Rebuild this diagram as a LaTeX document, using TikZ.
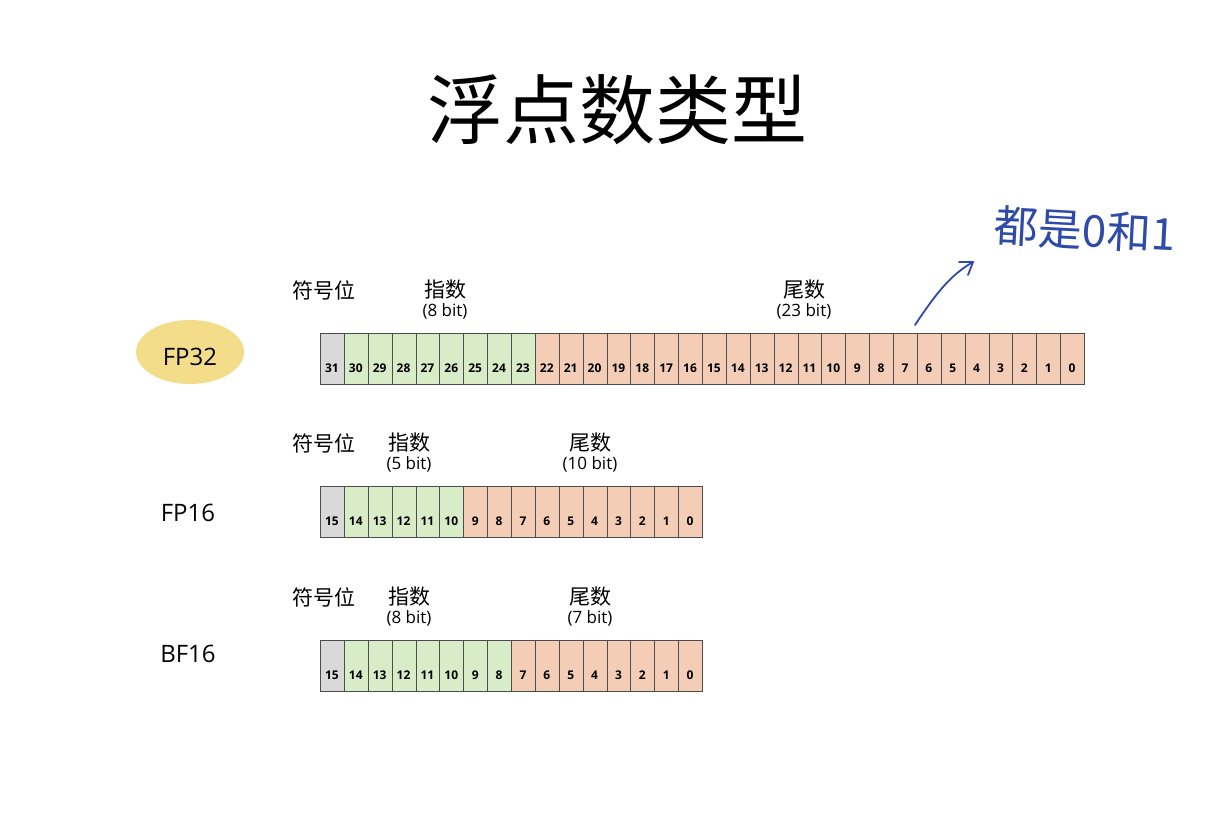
\documentclass[tikz,border=0pt]{standalone}
\usepackage{fontspec}
\setmainfont{Noto Sans CJK SC}
\newfontfamily\numf{Open Sans}
\definecolor{sgn}{HTML}{D9D9D9}
\definecolor{expc}{HTML}{D8ECC8}
\definecolor{manc}{HTML}{F4CDB6}
\definecolor{hand}{HTML}{2E4BA8}
\definecolor{hl}{HTML}{F3DC8A}
\begin{document}
\begin{tikzpicture}[x=1pt,y=-1pt,
 cell/.style={draw=black!70,line width=0.8pt,minimum width=23.9pt,minimum height=51pt,inner sep=0pt,anchor=north west,text depth=0pt},
 num/.style={font=\numf\fontsize{12}{12}\selectfont\bfseries},
 lab/.style={font=\fontsize{21}{21}\selectfont},
 sub/.style={font=\numf\fontsize{17}{17}\selectfont},
 row/.style={font=\numf\fontsize{24}{24}\selectfont}]
\useasboundingbox (0,0) rectangle (1225,833);
\node[font=\fontsize{76}{76}\selectfont] (title) at (617,110) {浮点数类型};
% FP32
\fill[hl] (190,352) ellipse (54 and 32);
\node[row] (r1) at (190,357) {FP32};
\foreach \i in {0,...,31}{
  \pgfmathtruncatemacro{\b}{31-\i}
  \ifnum\i=0 \def\cc{sgn}\else\ifnum\i<9 \def\cc{expc}\else\def\cc{manc}\fi\fi
  \node[cell,fill=\cc] (a\i) at ({320+23.875*\i},333) {};
  \node[num] (an\i) at ({320+23.875*(\i+0.5)},368) {\b};
}
\node[lab] (s1) at (324,290) {符号位};
\node[lab] (e1) at (445,290) {指数};
\node[sub] (e1b) at (445,311) {(8 bit)};
\node[lab] (m1) at (804,290) {尾数};
\node[sub] (m1b) at (804,311) {(23 bit)};
% FP16
\node[row] (r2) at (188,513) {FP16};
\foreach \i in {0,...,15}{
  \pgfmathtruncatemacro{\b}{15-\i}
  \ifnum\i=0 \def\cc{sgn}\else\ifnum\i<6 \def\cc{expc}\else\def\cc{manc}\fi\fi
  \node[cell,fill=\cc] (b\i) at ({320+23.875*\i},486) {};
  \node[num] (bn\i) at ({320+23.875*(\i+0.5)},521) {\b};
}
\node[lab] (s2) at (324,443) {符号位};
\node[lab] (e2) at (409,443) {指数};
\node[sub] (e2b) at (409,464) {(5 bit)};
\node[lab] (m2) at (590,443) {尾数};
\node[sub] (m2b) at (590,464) {(10 bit)};
% BF16
\node[row] (r3) at (188,654) {BF16};
\foreach \i in {0,...,15}{
  \pgfmathtruncatemacro{\b}{15-\i}
  \ifnum\i=0 \def\cc{sgn}\else\ifnum\i<8 \def\cc{expc}\else\def\cc{manc}\fi\fi
  \node[cell,fill=\cc] (c\i) at ({320+23.875*\i},640) {};
  \node[num] (cn\i) at ({320+23.875*(\i+0.5)},675) {\b};
}
\node[lab] (s3) at (324,597) {符号位};
\node[lab] (e3) at (409,597) {指数};
\node[sub] (e3b) at (409,618) {(8 bit)};
\node[lab] (m3) at (590,597) {尾数};
\node[sub] (m3b) at (590,618) {(7 bit)};
% annotation
\node[font=\fontsize{44}{44}\selectfont,text=hand,rotate=-3] (note) at (1085,230) {都是0和1};
\coordinate (st) at (915,325);
\draw[hand,line width=1.8pt,line cap=round] (st) .. controls (935,295) and (950,275) .. (973,262);
\draw[hand,line width=1.8pt,line cap=round] (959,262) -- (973,262) -- (968,275);
\end{tikzpicture}
\end{document}
